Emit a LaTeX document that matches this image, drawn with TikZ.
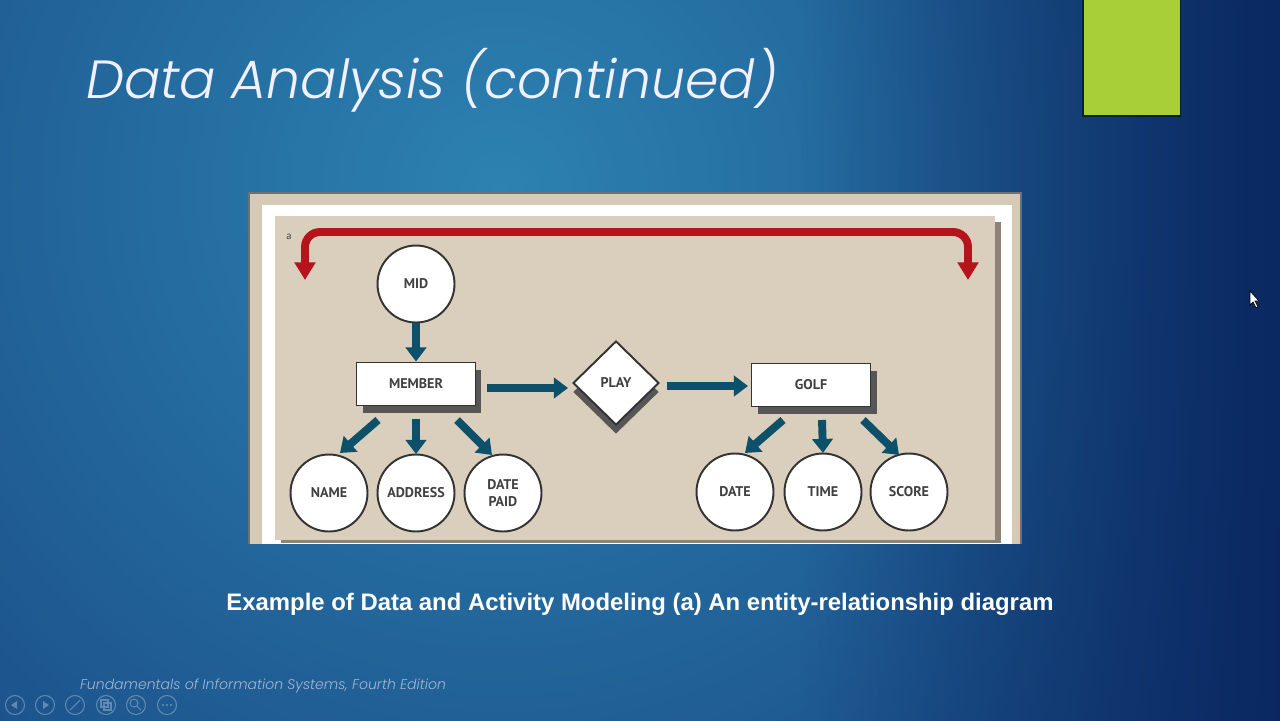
\documentclass[tikz,border=0pt]{standalone}
\usepackage{fontspec}
\setmainfont{Liberation Sans}
\newfontfamily\titlefont{Poppins}[UprightFont={* Light},ItalicFont={* Light Italic}]
\newfontfamily\erfont{PT Sans}
\usetikzlibrary{arrows.meta,shapes.geometric,shadows,calc,fadings}
\definecolor{slideNavy}{HTML}{0A2760}
\definecolor{slideGlow}{HTML}{2C82B1}
\definecolor{slideLeft}{HTML}{17437F}
\definecolor{footerGrey}{HTML}{A3B6D0}
\definecolor{accentGreen}{HTML}{A8CE38}
\definecolor{panelBeige}{HTML}{D9CFBC}
\definecolor{panelEdge}{HTML}{D4CAB6}
\definecolor{panelShadow}{HTML}{8E8475}
\definecolor{erLine}{HTML}{333333}
\definecolor{erText}{HTML}{404040}
\definecolor{erShadow}{HTML}{565656}
\definecolor{erFlow}{HTML}{0D5069}
\definecolor{erBack}{HTML}{B5141C}
\tikzfading[name=fadeeast,left color=transparent!100,right color=transparent!0]

\begin{document}
\begin{tikzpicture}[
    x=0.02cm,y=-0.02cm,
    every node/.style={align=center},
    attr/.style={circle,draw=erLine,fill=white,line width=1.1pt,minimum size=1.54cm,inner sep=0pt,
      text=erText,font=\erfont\bfseries\fontsize{8}{10}\selectfont},
    entity/.style={rectangle,draw=erLine,fill=white,line width=1.1pt,minimum width=2.38cm,minimum height=0.86cm,
      text=erText,font=\erfont\bfseries\fontsize{8}{10}\selectfont,
      drop shadow={shadow xshift=0.12cm,shadow yshift=-0.14cm,fill=erShadow,opacity=1}},
    relation/.style={diamond,draw=erLine,fill=white,line width=1.1pt,minimum width=1.72cm,minimum height=1.68cm,inner sep=0pt,
      text=erText,font=\erfont\bfseries\fontsize{8}{10}\selectfont,
      drop shadow={shadow xshift=0cm,shadow yshift=-0.18cm,fill=erShadow,opacity=1}},
    flow/.style={-{Triangle[length=8pt,width=11.5pt]},draw=erFlow,line width=4.5pt},
    backflow/.style={{Triangle[length=10pt,width=11.5pt]}-{Triangle[length=10pt,width=11.5pt]},draw=erBack,line width=4.5pt,rounded corners=0.3cm},
    icon/.style={draw=white,opacity=.3,line width=0.6pt}
]
\useasboundingbox (0,0) rectangle (1280,720);
% slide background
\fill[slideLeft] (-10,-10) rectangle (1290,730);
\shade[inner color=slideGlow,outer color=slideLeft] (500,190) circle (980);
\fill[slideNavy,path fading=fadeeast] (800,-10) rectangle (1290,730);
\fill[black,opacity=.45] (1082,-10) rectangle (1181,117);
\fill[accentGreen] (1084,-10) rectangle (1180,115);

\node[anchor=west,text=white!94!blue,font=\titlefont\itshape\fontsize{30.6}{36}\selectfont] (title) at (80,80) {Data Analysis (continued)};

% picture frame
\fill[panelEdge] (249,193) rectangle (1021,544);
\draw[erLine!70,line width=0.6pt] (249,544) -- (249,193) -- (1021,193) -- (1021,544);
\fill[white] (262,205) rectangle (1012,544);
\fill[panelShadow] (281,222) rectangle (1001,543);
\fill[panelBeige] (275,216) rectangle (995,540);
\node[text=erText,font=\erfont\fontsize{6}{7}\selectfont] (panellabel) at (289,237) {a};

% entities, relation, attributes
\node[attr] (mid) at (416,284) {MID};
\node[entity] (member) at (416,384) {MEMBER};
\node[relation] (play) at (616,383) {PLAY};
\node[entity] (golf) at (811,385) {GOLF};
\node[attr] (name) at (329,493) {NAME};
\node[attr] (address) at (416,493) {ADDRESS};
\node[attr] (datepaid) at (503,493) {DATE\\PAID};
\node[attr] (date) at (735,492) {DATE};
\node[attr] (time) at (823,492) {TIME};
\node[attr] (score) at (909,492) {SCORE};

\draw[flow] (mid.south) -- (member.north);
\draw[flow] ($(member)+(71,4)$) -- ($(play)+(-48,5)$);
\draw[flow] ($(play)+(51,3)$) -- ($(golf)+(-63,1)$);
\draw[flow] ($(member)+(-38,36)$) -- ($(name)+(11,-40)$);
\draw[flow] ($(member)+(0,35)$) -- ($(address)+(0,-39)$);
\draw[flow] ($(member)+(41,36)$) -- ($(datepaid)+(-11,-38)$);
\draw[flow] ($(golf)+(-28,35)$) -- ($(date)+(10,-39)$);
\draw[flow] ($(golf)+(11,35)$) -- ($(time)+(0,-39)$);
\draw[flow] ($(golf)+(52,35)$) -- ($(score)+(-10,-37)$);

% loop back arrow
\coordinate (backstart) at (305,280);
\coordinate (backtop) at (640,232);
\coordinate (backend) at (968,280);
\draw[backflow] (backstart) |- (backtop) -| (backend);

\node[text=white,font=\bfseries\fontsize{13.6}{16}\selectfont] (caption) at (640,604)
  {Example of Data and Activity Modeling (a) An entity-relationship diagram};
\node[text=footerGrey,font=\titlefont\itshape\fontsize{8}{10}\selectfont] (footer) at (263,686)
  {Fundamentals of Information Systems, Fourth Edition};

% player controls
\foreach \cx in {15,45,75,106,136,167} \draw[icon] (\cx,705) circle (9.5);
\fill[white,opacity=.3] (11,705) -- (17,701) -- (17,709) -- cycle;
\fill[white,opacity=.3] (49,705) -- (43,701) -- (43,709) -- cycle;
\draw[icon] (70,710) -- (80,700);
\draw[icon] (101,700) rectangle (108,707) (104,703) rectangle (111,710);
\draw[icon] (134,703) circle (4) (137,706) -- (141,710);
\foreach \dx in {-4,0,4} \fill[white,opacity=.35] (167+\dx,705) circle (1.2);

% mouse pointer
\filldraw[fill=white,draw=black,line width=0.4pt] (1250,291) -- (1250,305) -- (1253,302) -- (1256,308) -- (1258,307) -- (1255,301) -- (1259,301) -- cycle;
\end{tikzpicture}
\end{document}
